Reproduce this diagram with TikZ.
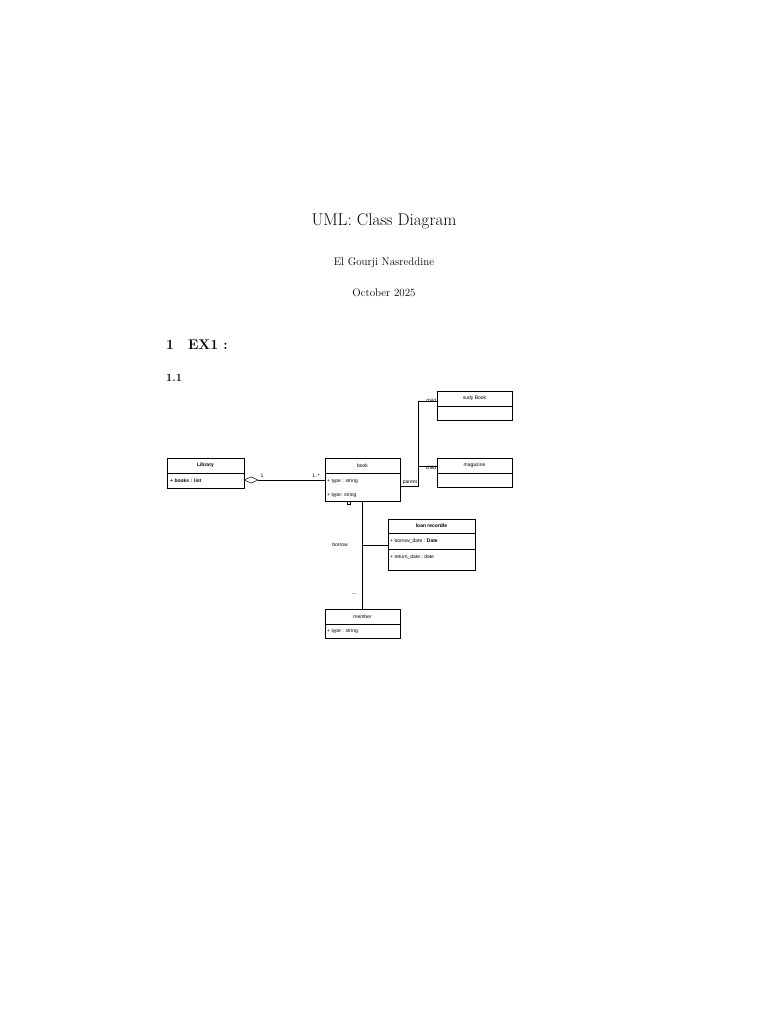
\documentclass[tikz,border=0pt]{standalone}
\usepackage{fontspec}
\newfontfamily\uml{Liberation Sans}
\begin{document}
\begin{tikzpicture}[x=1pt,y=-1pt,
  box/.style={draw,line width=0.6pt},
  ln/.style={line width=0.5pt},
  t/.style={font=\uml\fontsize{5}{6}\selectfont,inner sep=0pt},
  tb/.style={font=\uml\bfseries\fontsize{5}{6}\selectfont,inner sep=0pt}]
\useasboundingbox (0,0) rectangle (768,1024);
\node (title) at (384,221) {\fontsize{17}{20}\selectfont UML: Class Diagram};
\node (auth) at (384,263) {\fontsize{11}{13}\selectfont El Gourji Nasreddine};
\node (date) at (384,293) {\fontsize{11}{13}\selectfont October 2025};
\node[anchor=west,inner sep=0pt] (sec) at (166,345) {\fontsize{14}{16}\selectfont\bfseries 1\hspace{14pt}EX1 :};
\node[anchor=west,inner sep=0pt] (sub) at (166,378) {\fontsize{11}{13}\selectfont\bfseries 1.1};
% Library
\draw[box] (167,458) rectangle (244,488); \draw[ln] (167,473)--(244,473);
\node[tb] (lib) at (205.5,465.5) {Library};
\node[tb,anchor=west] (libb) at (170,480.5) {+ books : list};
% book
\draw[box] (325,458) rectangle (400,501); \draw[ln] (325,473)--(400,473);
\node[t] (book) at (362.5,465.5) {book};
\node[t,anchor=west] at (327,481) {+ type : string};
\node[t,anchor=west] at (327,495) {+ type: string};
% study book
\draw[box] (437,391) rectangle (512,420); \draw[ln] (437,406)--(512,406);
\node[t] (sb) at (474.5,398.5) {sudy Book};
% magazine
\draw[box] (437,458) rectangle (512,487); \draw[ln] (437,473)--(512,473);
\node[t] (mag) at (474.5,465.5) {magazine};
% loan
\draw[box] (388,519) rectangle (475,570); \draw[ln] (388,533)--(475,533); \draw[ln] (388,549)--(475,549);
\node[tb] (loan) at (431.5,526) {loan recordle};
\node[t,anchor=west] at (390,541) {+ borrow\_date : \textbf{Date}};
\node[t,anchor=west] at (390,557) {+ return\_date ; date};
% member
\draw[box] (325,609) rectangle (400,638); \draw[ln] (325,624)--(400,624);
\node[t] (mem) at (362.5,616.5) {member};
\node[t,anchor=west] at (327,631) {+ type : string};
% aggregation
\draw[ln] (244,480)--(251,477)--(258,480)--(251,483)--cycle;
\draw[ln] (258,480)--(325,480);
\node[t] at (262,476) {1};
\node[t] at (316,476) {1..*};
% generalization
\draw[ln] (400,486)--(418,486)--(418,401)--(437,401);
\draw[ln] (418,466)--(437,466);
\node[t] at (410,482.5) {parent};
\node[t] at (431,401) {child};
\node[t] at (431,467.5) {child};
% borrow
\draw[ln] (362,501)--(362,609);
\draw[ln] (362,545)--(388,545);
\node[t] at (340,545) {borrow};
\node[t] at (354,595) {--};
\draw[line width=0.4pt] (347,501) rectangle (350,504);
\end{tikzpicture}
\end{document}
